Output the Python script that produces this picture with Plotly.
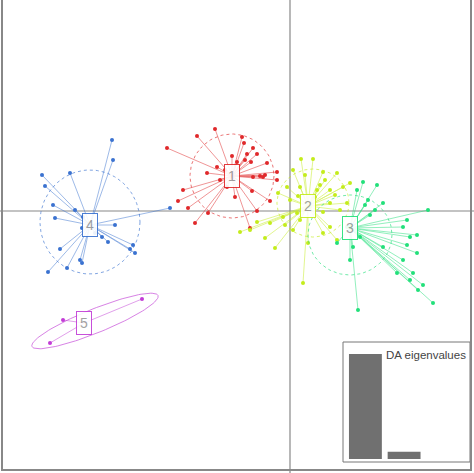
import numpy as np
import plotly.graph_objects as go

groups = ["1", "2", "3", "4", "5"]
colors = ["#e0282a", "#c4ec1c", "#22e07a", "#3a72d0", "#c23cd6"]
centers = [(232, 176), (308, 206), (350, 228), (90, 225), (84, 323)]
ell_center = [(232, 176), (313, 203), (350, 235), (90, 222), (95, 321)]
ell_axes = [(42, 42), (36, 34), (42, 40), (50, 52), (68, 12)]
ell_angle = [0, 0, 0, 0, -22]

pts = {
"1": [(215,129),(197,136),(167,148),(242,137),(244,143),(253,148),(257,154),(247,154),(232,156),(237,162),
      (251,162),(267,163),(217,167),(207,173),(277,172),(263,177),(253,177),(277,180),(220,180),(227,187),
      (252,191),(183,190),(270,201),(235,197),(178,201),(188,208),(208,213),(257,211),(195,223),(250,228),
      (260,176),(265,175),(245,160),(225,170)],
"2": [(301,159),(313,159),(293,170),(323,172),(337,173),(350,183),(343,187),(330,190),(317,190),(300,187),
      (287,187),(278,193),(330,203),(347,203),(323,212),(297,213),(283,217),(270,223),(257,222),(240,232),
      (250,230),(265,238),(275,248),(293,230),(308,243),(323,233),(330,227),(303,283),(337,240),(310,207),
      (290,200),(320,185),(335,195),(325,180),(305,175),(285,225),(300,220),(340,210),(315,197),(298,196)],
"3": [(363,182),(377,185),(357,190),(368,200),(383,203),(428,210),(407,220),(350,227),(403,227),(360,237),
      (347,227),(410,237),(417,235),(337,243),(353,247),(383,247),(407,245),(417,253),(403,260),(350,260),
      (397,273),(410,280),(423,285),(418,290),(433,303),(358,310),(413,273),(370,215),(365,205),(375,210)],
"4": [(112,140),(113,160),(42,175),(70,173),(45,186),(53,205),(55,218),(82,228),(95,233),(102,237),
      (108,242),(115,225),(133,245),(130,249),(135,253),(60,249),(80,260),(82,263),(67,268),(48,272),
      (170,208),(83,217),(75,210)],
"5": [(63,320),(142,299),(50,343)],
}

eig = [1.0, 0.07, 0.0]

fig = go.Figure()
for g, c, cen, ec, ax, ang in zip(groups, colors, centers, ell_center, ell_axes, ell_angle):
    xs, ys = [], []
    for (px, py) in pts[g]:
        xs += [cen[0], px, None]; ys += [cen[1], py, None]
    fig.add_trace(go.Scatter(x=xs, y=ys, mode="lines", line=dict(color=c, width=0.7),
                             opacity=0.7, hoverinfo="skip", showlegend=False))
    t = np.linspace(0, 2*np.pi, 120)
    a = np.radians(ang)
    ex = ec[0] + ax[0]*np.cos(t)*np.cos(a) - ax[1]*np.sin(t)*np.sin(a)
    ey = ec[1] + ax[0]*np.cos(t)*np.sin(a) + ax[1]*np.sin(t)*np.cos(a)
    fig.add_trace(go.Scatter(x=ex, y=ey, mode="lines", line=dict(color=c, width=0.8, dash="dot" if g != "5" else "solid"),
                             opacity=0.8, hoverinfo="skip", showlegend=False))
    fig.add_trace(go.Scatter(x=[p[0] for p in pts[g]], y=[p[1] for p in pts[g]], mode="markers",
                             marker=dict(color=c, size=4), showlegend=False))
    fig.add_annotation(x=cen[0], y=cen[1], text=g, showarrow=False, font=dict(size=14, color="#999999", family="Liberation Sans"),
                       bgcolor="white", bordercolor=c, borderwidth=1, borderpad=3, opacity=0.9)

fig.add_shape(type="line", x0=290, x1=290, y0=0, y1=473, line=dict(color="#888888", width=1.2), layer="below")
fig.add_shape(type="line", x0=0, x1=474, y0=211, y1=211, line=dict(color="#888888", width=1.2), layer="below")
fig.add_shape(type="rect", x0=2, x1=471, y0=-5, y1=470, line=dict(color="#888888", width=2))

# inset
fig.add_trace(go.Bar(x=[0, 1, 2], y=eig, marker=dict(color="#707070", line=dict(width=0)), width=0.85,
                     xaxis="x2", yaxis="y2", showlegend=False))
fig.add_shape(type="rect", x0=343, x1=470, y0=342, y1=462, fillcolor="white", line=dict(color="#777777", width=1), layer="below")
fig.add_annotation(xref="x", yref="y", x=468, y=355, text="DA eigenvalues", showarrow=False, xanchor="right",
                   font=dict(size=11.5, color="#444444", family="Liberation Sans"))

fig.update_layout(width=474, height=473, margin=dict(l=0, r=0, t=0, b=0), plot_bgcolor="white", paper_bgcolor="white",
                  xaxis=dict(range=[0, 474], visible=False, domain=[0, 1]),
                  yaxis=dict(range=[473, 0], visible=False, domain=[0, 1]),
                  xaxis2=dict(domain=[348/474, 466/474], range=[-0.45, 2.6], visible=False, anchor="y2"),
                  yaxis2=dict(domain=[(473-459)/473, (473-354)/473], range=[0, 1.0], visible=False, anchor="x2"),
                  bargap=0.15)
fig.write_html("out.html", config={"displayModeBar": False},
               post_script="document.body.style.margin='0';document.body.style.overflow='hidden';")
